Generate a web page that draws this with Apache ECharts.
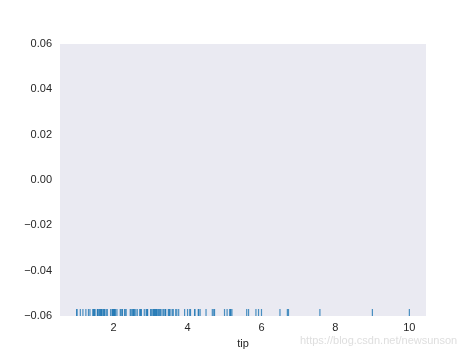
<!DOCTYPE html>
<html>
<head>
<meta charset="utf-8">
<script src="https://cdn.jsdelivr.net/npm/echarts@6/dist/echarts.min.js"></script>
<style>
  html, body { margin: 0; padding: 0; background: #fff; }
  #chart { width: 474px; height: 355px; }
</style>
</head>
<body>
<div id="chart"></div>
<script>
// distinct tip values seen in the rug
const tips = [
  1.0, 1.01, 1.1, 1.17, 1.25, 1.32, 1.36, 1.44, 1.45, 1.47, 1.48, 1.5, 1.56, 1.57,
  1.58, 1.61, 1.63, 1.64, 1.66, 1.67, 1.68, 1.71, 1.73, 1.75, 1.76, 1.8, 1.83, 1.92,
  1.96, 1.97, 1.98, 2.0, 2.01, 2.02, 2.03, 2.05, 2.09, 2.18, 2.2, 2.23, 2.24, 2.3,
  2.31, 2.34, 2.45, 2.47, 2.5, 2.52, 2.54, 2.55, 2.56, 2.6, 2.64, 2.71, 2.72, 2.74,
  2.75, 2.83, 2.88, 2.9, 2.91, 2.92, 3.0, 3.02, 3.06, 3.08, 3.09, 3.11, 3.12, 3.14,
  3.15, 3.16, 3.18, 3.21, 3.23, 3.25, 3.27, 3.31, 3.35, 3.39, 3.4, 3.41, 3.48, 3.5,
  3.51, 3.55, 3.6, 3.61, 3.68, 3.71, 3.76, 3.92, 4.0, 4.06, 4.08, 4.19, 4.2, 4.29,
  4.3, 4.34, 4.5, 4.67, 4.71, 4.73, 5.0, 5.07, 5.14, 5.16, 5.17, 5.2, 5.6, 5.65,
  5.85, 5.92, 6.0, 6.5, 6.7, 6.73, 7.58, 9.0, 10.0
];
const xTicks = [2, 4, 6, 8, 10];
const yMin = -0.06, yMax = 0.06, yStep = 0.02;

const chart = echarts.init(document.getElementById('chart'));
chart.setOption({
  animation: false,
  textStyle: { fontFamily: 'Liberation Sans, Arial, sans-serif' },
  grid: { left: 60, right: 48, top: 44, bottom: 39, show: true, backgroundColor: '#eaeaf2', borderWidth: 0 },
  xAxis: {
    type: 'value', min: 0.55, max: 10.45,
    name: 'tip', nameLocation: 'middle', nameGap: 22,
    nameTextStyle: { color: '#262626', fontSize: 11 },
    axisLine: { show: false }, splitLine: { show: false },
    axisTick: { show: false, customValues: xTicks },
    axisLabel: { customValues: xTicks, color: '#262626', fontSize: 11, margin: 6 }
  },
  yAxis: {
    type: 'value', min: yMin, max: yMax, interval: yStep,
    axisLine: { show: false }, splitLine: { show: false }, axisTick: { show: false },
    axisLabel: {
      color: '#262626', fontSize: 11, margin: 8,
      formatter: v => (v < -1e-9 ? '\u2212' : '') + Math.abs(v).toFixed(2)
    }
  },
  series: [{
    type: 'scatter',
    symbol: 'rect',
    symbolSize: [1.2, 7],
    symbolOffset: [0, -3.5],
    itemStyle: { color: '#1f77b4' },
    data: tips.map(t => [t, yMin])
  }],
  graphic: [{
    type: 'text', left: 300, top: 335,
    style: { text: 'https://blog.csdn.net/newsunson', fill: 'rgba(200,200,200,0.6)', fontSize: 11, fontFamily: 'Liberation Sans, Arial, sans-serif' }
  }]
});
</script>
</body>
</html>
